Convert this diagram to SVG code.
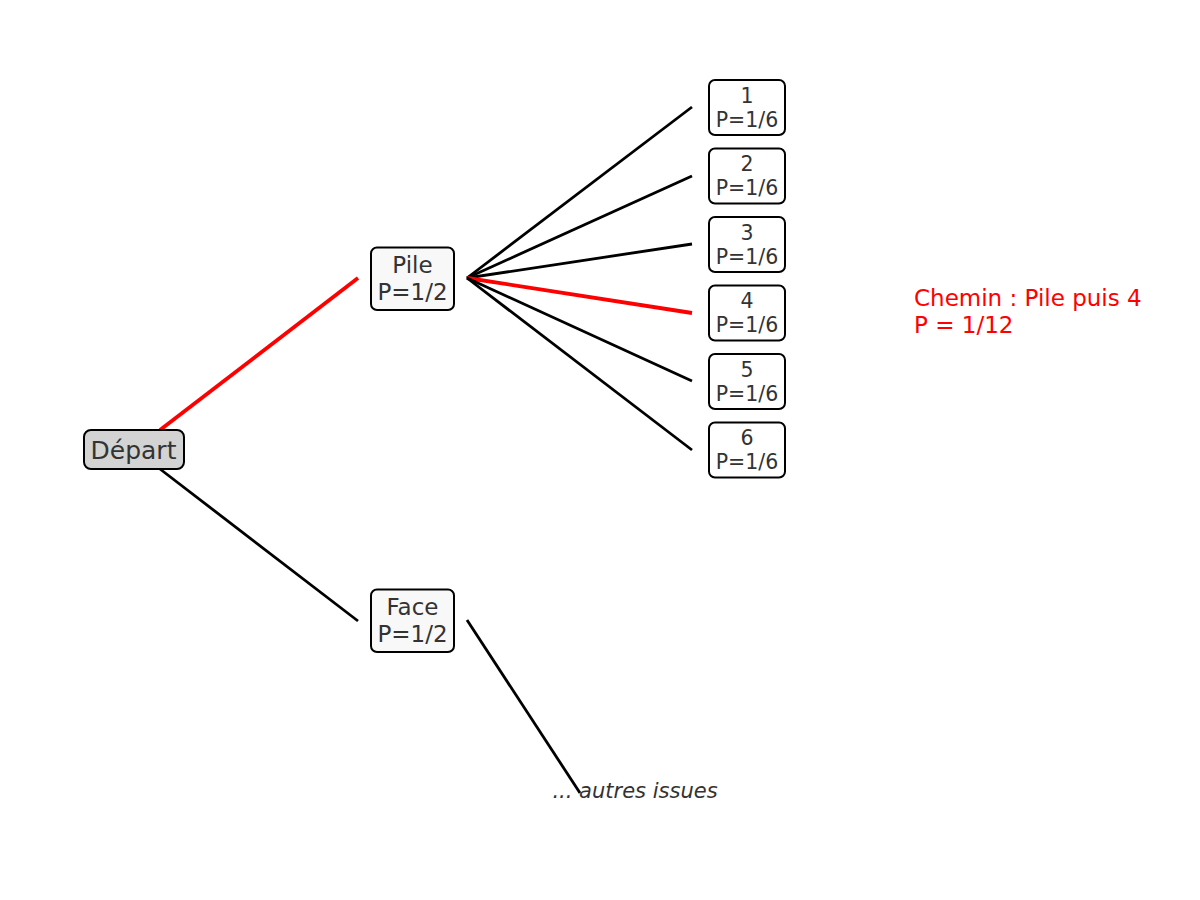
<svg xmlns="http://www.w3.org/2000/svg" width="1200" height="900" viewBox="0 0 1200 900">
<style>
text{font-family:"DejaVu Sans","Liberation Sans",sans-serif;fill:#333;text-anchor:middle}
.box{stroke:#000;stroke-width:2}
.mid{fill:#f8f8f8}
.leaf{fill:#fff}
.n22{font-size:23px}
.n20{font-size:20.5px}
.e{fill:none;stroke:#000;stroke-width:2.8}
.hl{stroke:#ff0000;stroke-width:3.8}
</style>
<rect width="1200" height="900" fill="#fff"/>
<g id="connectors">
<line class="e hl" x1="160" y1="430" x2="358" y2="278"/>
<line class="e" x1="160" y1="469" x2="358" y2="621"/>
<line class="e" x1="467" y1="278" x2="692" y2="107"/>
<line class="e" x1="467" y1="278" x2="692" y2="176"/>
<line class="e" x1="467" y1="278" x2="692" y2="244"/>
<line class="e hl" x1="467" y1="278" x2="692" y2="313"/>
<line class="e" x1="467" y1="278" x2="692" y2="381"/>
<line class="e" x1="467" y1="278" x2="692" y2="450"/>
<line class="e" x1="467" y1="620" x2="580" y2="793"/>
</g>
<g id="depart">
<rect class="box" x="84" y="430" width="100" height="39" rx="7" fill="#d3d3d3"/>
<text x="133.5" y="459" style="font-size:25px">Départ</text>
</g>
<g id="pile">
<rect class="box mid" x="371" y="247.5" width="83" height="62.5" rx="6"/>
<text class="n22" x="412.5" y="273">Pile</text>
<text class="n22" x="412.5" y="300">P=1/2</text>
</g>
<g id="face">
<rect class="box mid" x="371" y="589.5" width="83" height="62.5" rx="6"/>
<text class="n22" x="412.5" y="615">Face</text>
<text class="n22" x="412.5" y="642">P=1/2</text>
</g>
<g id="leaf1">
<rect class="box leaf" x="709" y="80" width="76" height="55" rx="6"/>
<text class="n20" x="747" y="102.5">1</text>
<text class="n20" x="747" y="126.5">P=1/6</text>
</g>
<g id="leaf2">
<rect class="box leaf" x="709" y="148.5" width="76" height="55" rx="6"/>
<text class="n20" x="747" y="171">2</text>
<text class="n20" x="747" y="195">P=1/6</text>
</g>
<g id="leaf3">
<rect class="box leaf" x="709" y="217" width="76" height="55" rx="6"/>
<text class="n20" x="747" y="239.5">3</text>
<text class="n20" x="747" y="263.5">P=1/6</text>
</g>
<g id="leaf4">
<rect class="box leaf" x="709" y="285.5" width="76" height="55" rx="6"/>
<text class="n20" x="747" y="308">4</text>
<text class="n20" x="747" y="332">P=1/6</text>
</g>
<g id="leaf5">
<rect class="box leaf" x="709" y="354" width="76" height="55" rx="6"/>
<text class="n20" x="747" y="376.5">5</text>
<text class="n20" x="747" y="400.5">P=1/6</text>
</g>
<g id="leaf6">
<rect class="box leaf" x="709" y="422.5" width="76" height="55" rx="6"/>
<text class="n20" x="747" y="445">6</text>
<text class="n20" x="747" y="469">P=1/6</text>
</g>
<g id="autres">
<text x="635" y="798" style="font-size:21px;font-style:italic">... autres issues</text>
</g>
<g id="chemin">
<text x="914" y="306" style="font-size:23px;text-anchor:start;fill:#ff0000">Chemin : Pile puis 4</text>
<text x="914" y="333" style="font-size:23px;text-anchor:start;fill:#ff0000">P = 1/12</text>
</g>
</svg>
